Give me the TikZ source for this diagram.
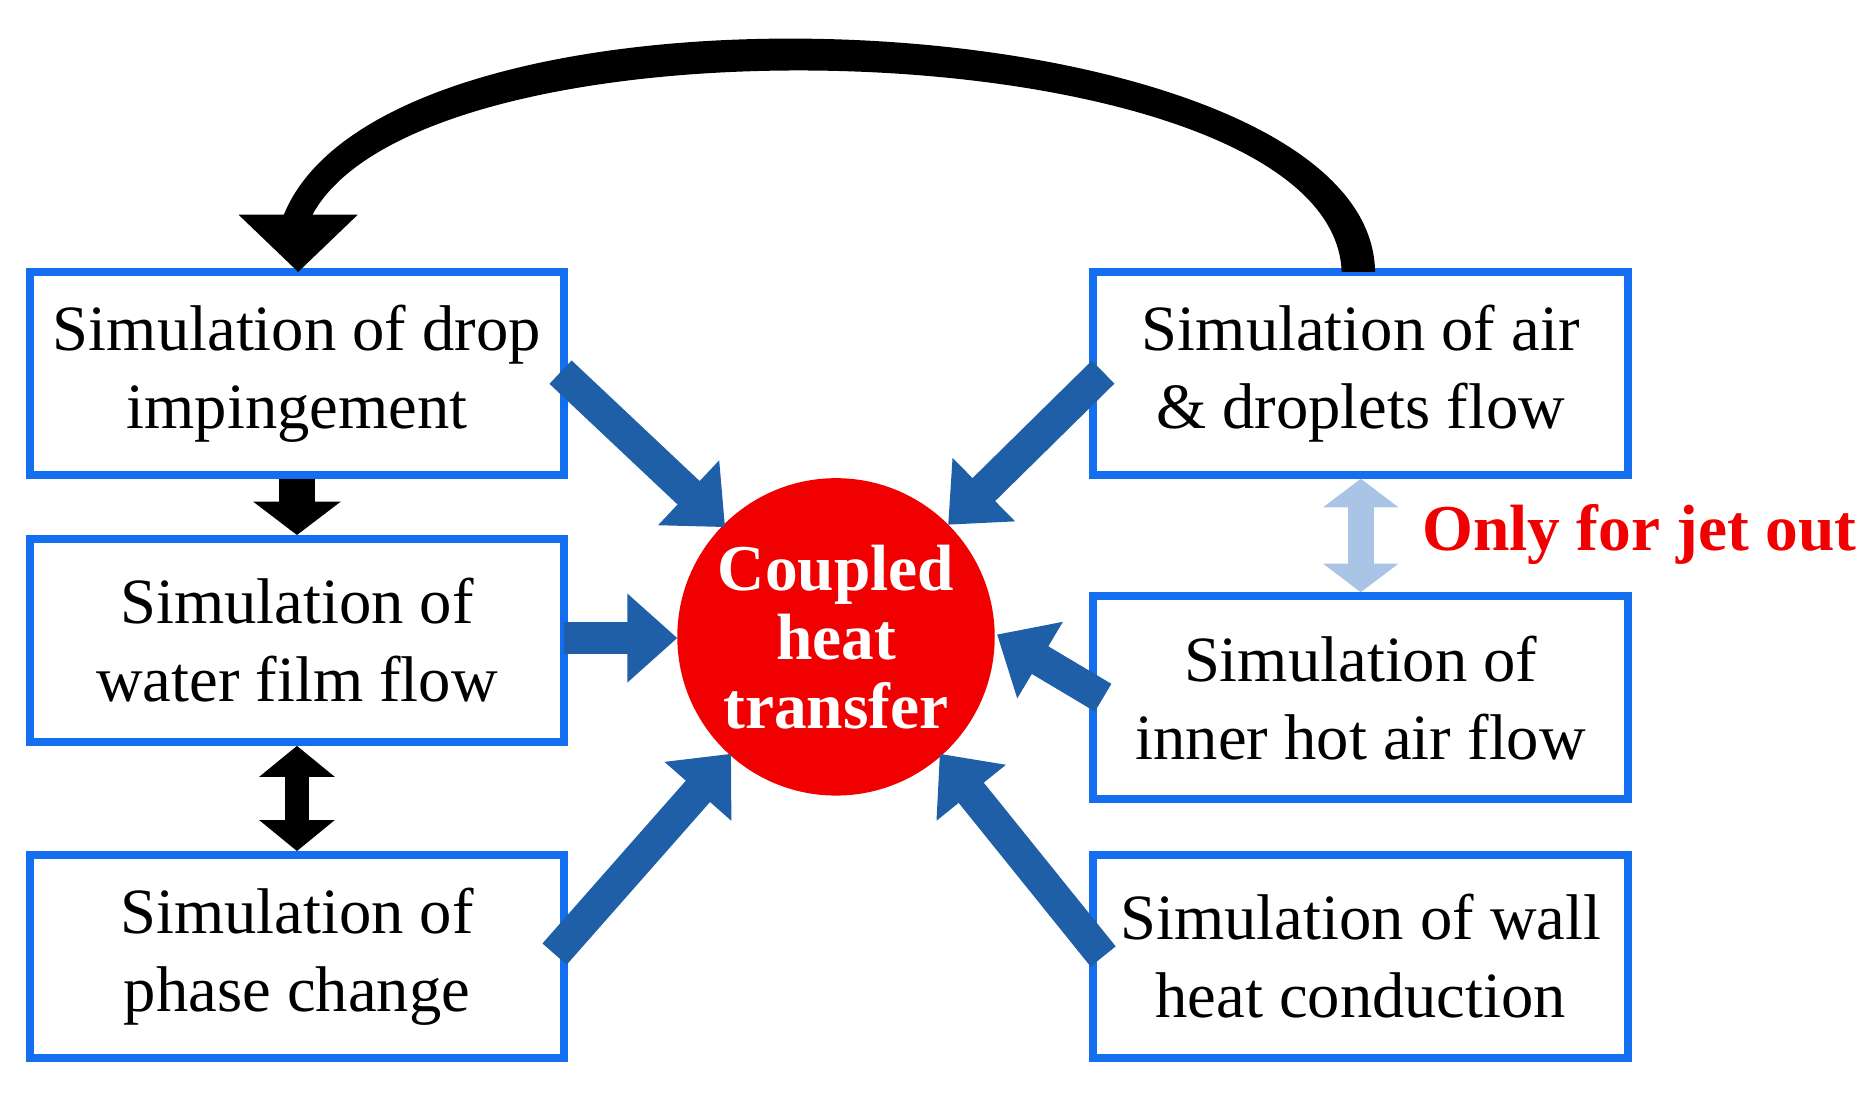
\documentclass[tikz,border=0pt]{standalone}
\usepackage{fontspec}
\setmainfont{Liberation Serif}
\usetikzlibrary{arrows.meta}
\definecolor{bblue}{RGB}{31,95,168}
\definecolor{boxb}{RGB}{20,110,240}
\definecolor{lblue}{RGB}{170,196,230}
\definecolor{cred}{RGB}{240,0,0}
\tikzset{
  sbox/.style={draw=boxb,line width=1.9pt,minimum width=4.48cm,minimum height=1.70cm,align=center,inner sep=0pt,font=\fontsize{15.4}{18.6}\selectfont},
  barrow/.style={bblue,line width=0.27cm,-{Triangle[width=0.72cm,length=0.42cm]}},
  karrow/.style={black,line width=0.3cm,-{Triangle[width=0.72cm,length=0.28cm]}},
  kdarrow/.style={black,line width=0.2cm,{Triangle[width=0.62cm,length=0.26cm]}-{Triangle[width=0.62cm,length=0.26cm]}},
}
\begin{document}
\begin{tikzpicture}[x=0.01cm,y=-0.01cm]
\useasboundingbox (0,0) rectangle (1568,920);
\node[sbox] (drop) at (249,313) {Simulation of drop\\impingement};
\node[sbox] (film) at (249,537) {Simulation of\\water film flow};
\node[sbox] (phase) at (249,802) {Simulation of\\phase change};
\node[sbox] (air) at (1141,313) {Simulation of air\\\& droplets flow};
\node[sbox] (hot) at (1141,585) {Simulation of\\inner hot air flow};
\node[sbox] (wall) at (1141,802) {Simulation of wall\\heat conduction};
\node[circle,fill=cred,minimum size=2.66cm,inner sep=0pt,align=center,text=white,font=\bfseries\fontsize{15.6}{16.5}\selectfont] (c) at (701,534) {Coupled\\heat\\transfer};
\node[text=cred,font=\bfseries\fontsize{15.6}{18}\selectfont,anchor=west,inner sep=0pt] (jet) at (1192,448) {Only for jet out};
% blue arrows
\coordinate (d1) at (470,312); \coordinate (d2) at (608,442);
\coordinate (a1) at (925,312); \coordinate (a2) at (795,440);
\coordinate (f1) at (473,535); \coordinate (f2) at (568,535);
\coordinate (h1) at (925,585); \coordinate (h2) at (836,532);
\coordinate (p1) at (465,800); \coordinate (p2) at (613,632);
\coordinate (w1) at (925,802); \coordinate (w2) at (788,632);
\draw[barrow] (d1) -- (d2);
\draw[barrow] (a1) -- (a2);
\draw[barrow] (f1) -- (f2);
\draw[barrow] (h1) -- (h2);
\draw[barrow] (p1) -- (p2);
\draw[barrow] (w1) -- (w2);
% black
\draw[karrow] (drop.south) -- (film.north);
\draw[kdarrow] (film.south) -- (phase.north);
\draw[lblue,line width=0.22cm,{Triangle[width=0.62cm,length=0.24cm]}-{Triangle[width=0.62cm,length=0.24cm]}] (air.south) -- (hot.north);
% big curved arrow
\fill[black] (1153,228) .. controls (1150,0) and (330,-45) .. (238,180)
  -- (200,180) -- (250,228) -- (300,180) -- (262,180)
  .. controls (360,0) and (1118,25) .. (1125,228) -- cycle;
\end{tikzpicture}
\end{document}
